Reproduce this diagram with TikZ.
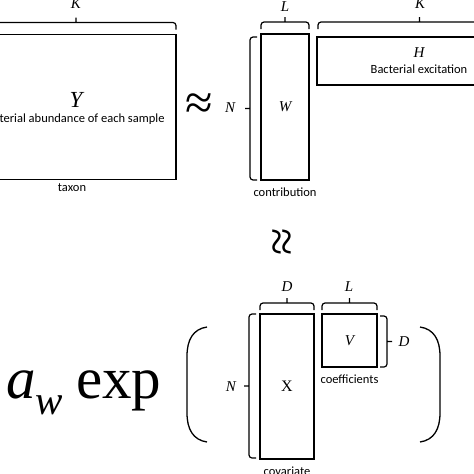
\documentclass[tikz,border=0pt]{standalone}
\usepackage{fontspec}
\setmainfont{Liberation Serif}
\setsansfont{Carlito}
\usetikzlibrary{positioning,calc}

\tikzset{
	matbox/.style={draw, line width=1.6pt, inner sep=0pt, outer sep=0pt},
	% square bracket with a tick, drawn to the left of the path
	brk/.style={line width=1.2pt, rounded corners=3pt, to path={
		-- ($(\tikztostart)!7pt!90:(\tikztotarget)$)
		-- ($(\tikztotarget)!7pt!-90:(\tikztostart)$)
		-- (\tikztotarget)
		($(\tikztostart)!0.5!(\tikztotarget)!7pt!90:(\tikztotarget)$)
		-- ($(\tikztostart)!0.5!(\tikztotarget)!12pt!90:(\tikztotarget)$)}},
	dimlbl/.style={font=\fontsize{15}{15}\selectfont\itshape, inner sep=0pt},
	captxt/.style={font=\fontsize{12.5}{12.5}\selectfont\sffamily, inner sep=0pt},
	approxsym/.style={font=\fontsize{50}{50}\selectfont, inner sep=0pt},
}

\begin{document}
\begin{tikzpicture}[x=1pt, y=-1pt]
			\useasboundingbox (0,0) rectangle (474,474);
			\clip (0,0) rectangle (474,474);
			% upper row: Y ~ W H
			\node[matbox, minimum width=200pt, minimum height=145pt] (Y) at (76,107) {};
			\node[font=\fontsize{23}{23}\selectfont\itshape, inner sep=0pt] (Ylbl) at (76,100) {Y};
			\node[captxt] (Ytxt) at (73,119) {Bacterial abundance of each sample};
			\node[captxt, below=4pt of Y, xshift=-4pt] (taxon) {taxon};
			\node[approxsym] (approx1) at (199,107) {≈};
			\node[matbox, minimum width=48pt, minimum height=146pt] (W) at (285,107) {};
			\node[dimlbl] (Wlbl) at (W.center) {W};
			\node[captxt, below=8pt of W] (contrib) {contribution};
			\node[matbox, minimum width=204pt, minimum height=48pt] (H) at (419,61) {};
			\node[dimlbl] (Hlbl) at (419,53) {H};
			\node[captxt] (Htxt) at (419,69) {Bacterial excitation};
			\draw[brk] ([yshift=5pt]Y.north west) to ([yshift=5pt]Y.north east);
			\node[dimlbl] (K1) at (76,4) {K};
			\draw[brk] ([yshift=5pt]W.north west) to ([yshift=5pt]W.north east);
			\node[dimlbl] (L1) at (285,7) {L};
			\draw[brk] ([xshift=1pt,yshift=8pt]H.north west) to ([yshift=8pt]H.north east);
			\node[dimlbl] (K2) at (420,4) {K};
			\draw[brk] ([xshift=-4pt]W.south west) to ([xshift=-4pt,yshift=-3pt]W.north west);
			\node[dimlbl] (N1) at (230,108) {N};
			\node[approxsym, rotate=90] (approx2) at (286,242) {≈};
			% lower row: a_w exp ( X V )
			\node[anchor=base west, inner sep=0pt, font=\fontsize{59}{59}\selectfont] (aw) at (6,398)
				{\textit{a}\raisebox{-16pt}{\fontsize{41}{41}\selectfont\textit{w}}\hspace{13pt}exp};
			\draw[line width=1.3pt] (207,327) .. controls (193,329) and (187,340) .. (187,356)
				-- (187,413) .. controls (187,429) and (193,440) .. (207,442);
			\draw[line width=1.3pt] (420,327) .. controls (434,329) and (440,340) .. (440,356)
				-- (440,413) .. controls (440,429) and (434,440) .. (420,442);
			\node[matbox, minimum width=54pt, minimum height=145pt] (X) at (287,386.5) {};
			\node[font=\fontsize{16}{16}\selectfont, inner sep=0pt] (Xlbl) at (X.center) {X};
			\node[captxt, below=8pt of X] (covar) {covariate};
			\node[matbox, minimum width=55pt, minimum height=53pt] (V) at (349.5,340.5) {};
			\node[dimlbl] (Vlbl) at (V.center) {V};
			\node[captxt, below=8pt of V] (coef) {coefficients};
			\draw[brk] ([yshift=4pt]X.north west) to ([yshift=4pt]X.north east);
			\node[dimlbl] (D1) at (287,287) {D};
			\draw[brk] ([yshift=4pt]V.north west) to ([yshift=4pt]V.north east);
			\node[dimlbl] (L2) at (349,287) {L};
			\draw[brk] ([xshift=-4pt,yshift=1pt]X.south west) to ([xshift=-4pt]X.north west);
			\node[dimlbl] (N2) at (231,387) {N};
			\draw[brk] ([xshift=3pt,yshift=-2pt]V.north east) to ([xshift=3pt]V.south east);
			\node[dimlbl] (D2) at (404,342) {D};
		\end{tikzpicture}
\end{document}
